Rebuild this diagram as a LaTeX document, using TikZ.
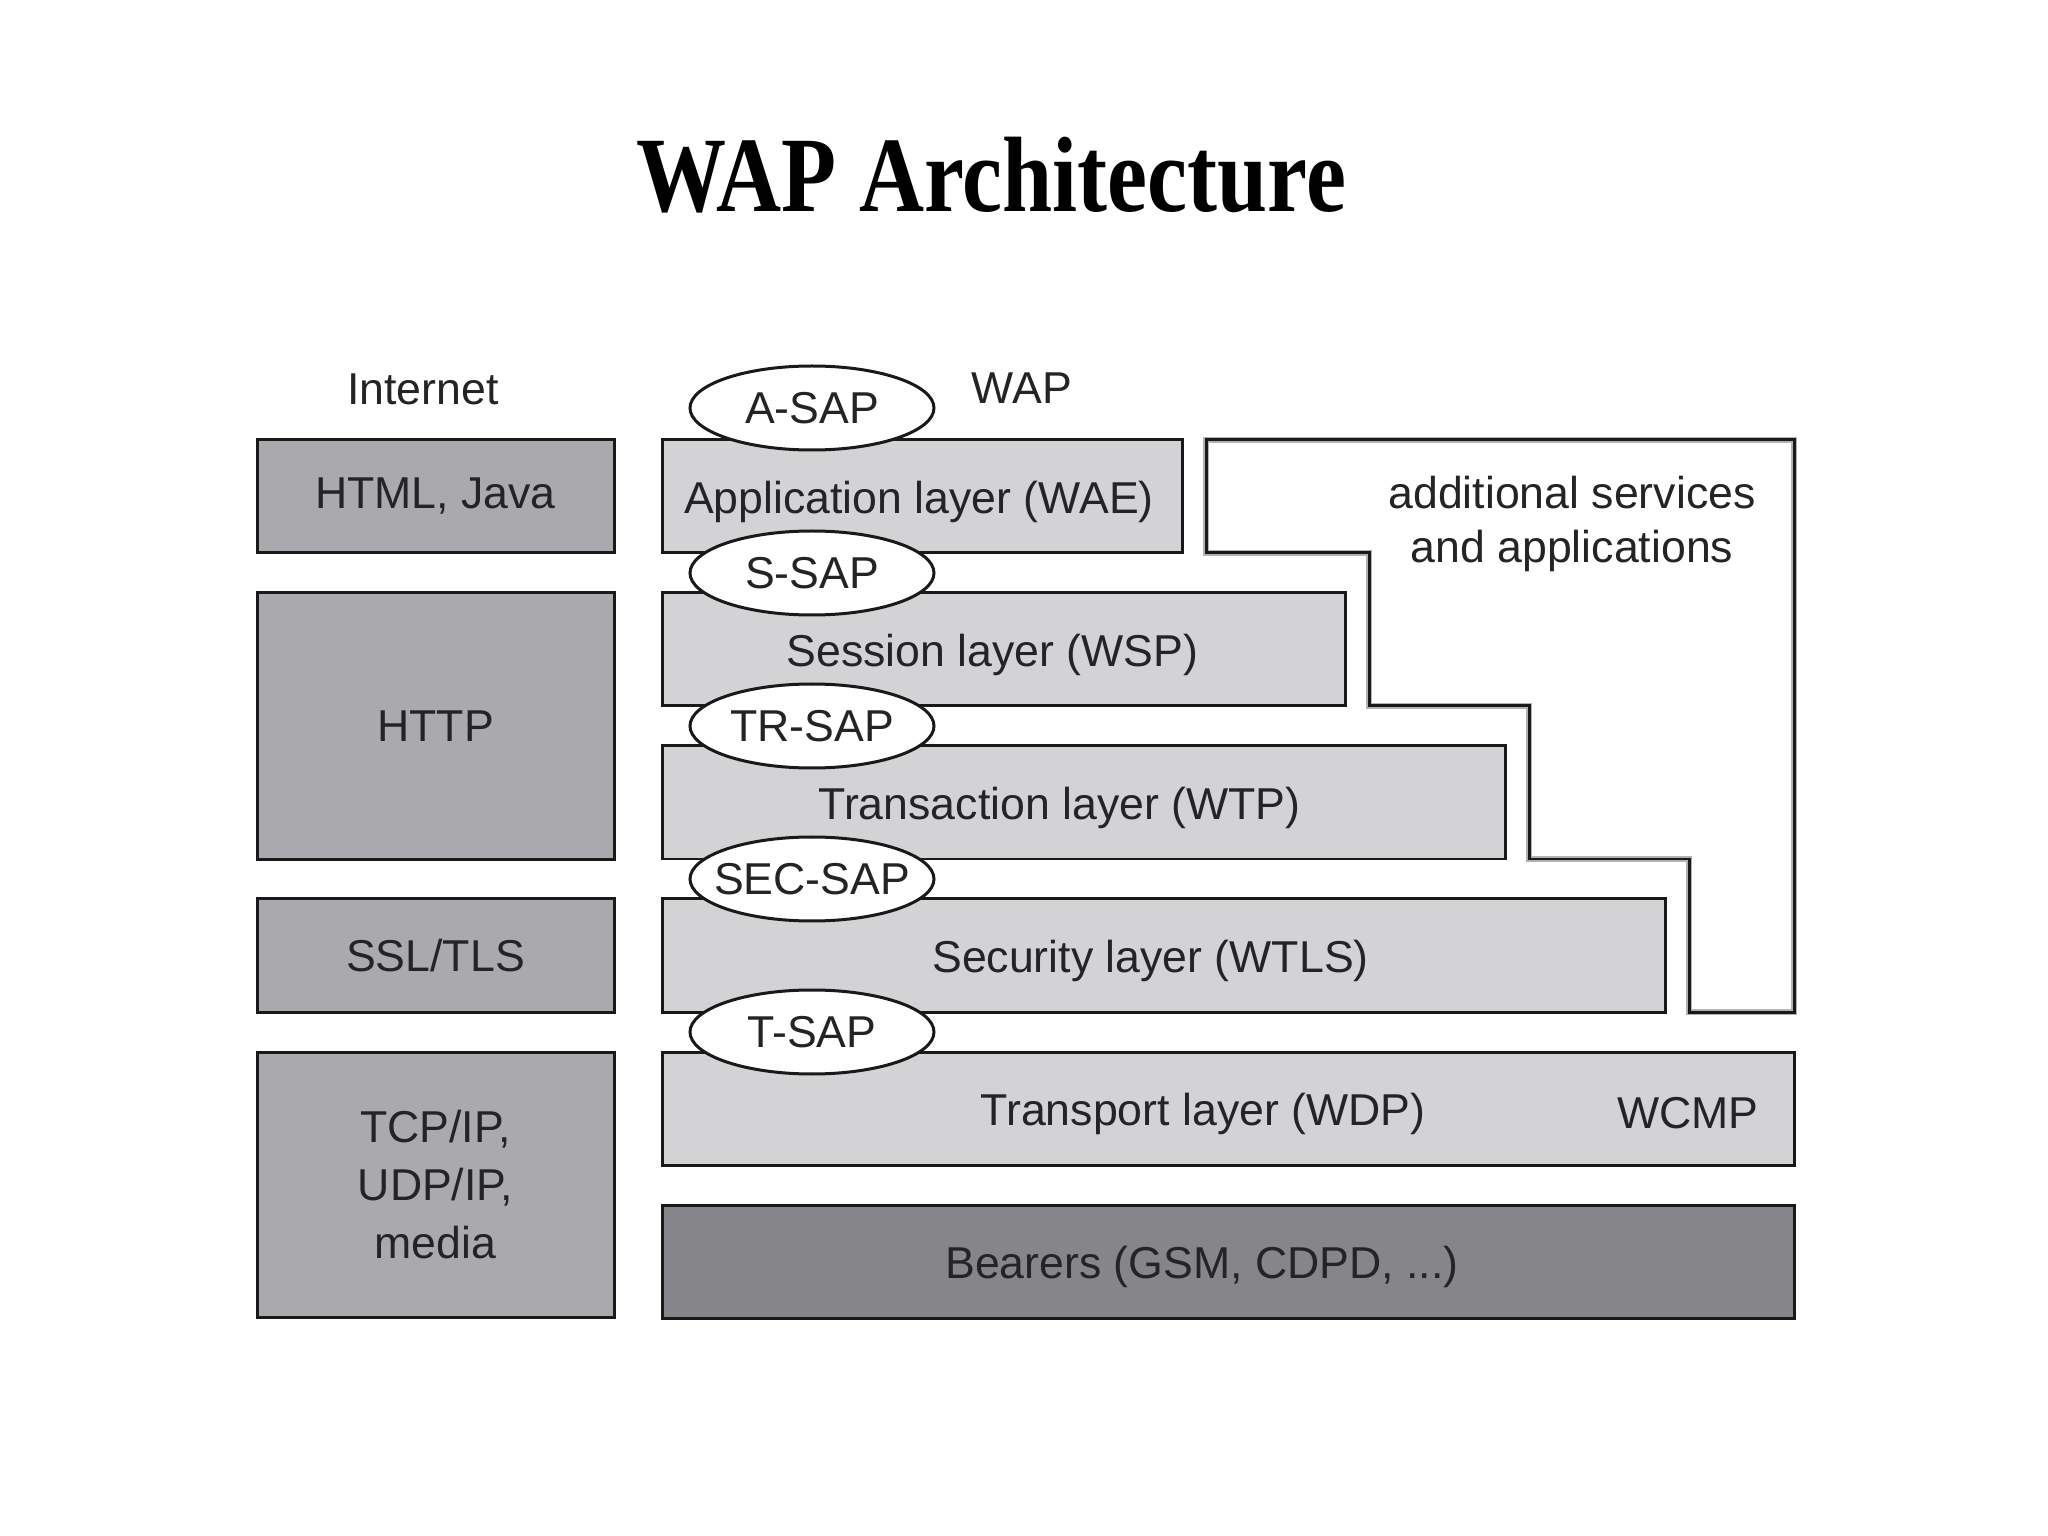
\documentclass[tikz,border=0pt]{standalone}
\usepackage{fontspec}
\setmainfont{Liberation Sans}
\newfontfamily\titlefont{Liberation Serif}
\usepackage{tikz}
\usetikzlibrary{positioning, shapes.geometric, calc}

\definecolor{netgray}{RGB}{170,170,174}
\definecolor{layergray}{RGB}{211,211,214}
\definecolor{bearergray}{RGB}{134,134,138}
\definecolor{inkgray}{RGB}{36,36,38}

\begin{document}
\begin{tikzpicture}[
  node distance=0.4cm,
  every node/.style={font=\fontsize{12.7}{16.5}\selectfont, text=inkgray},
  netbox/.style={draw=black!90, line width=0.03cm, fill=netgray, minimum width=3.57cm, outer sep=0pt, inner sep=0pt, align=center},
  layerbox/.style={draw=black!90, line width=0.03cm, fill=layergray, minimum height=1.13cm, outer sep=0pt, inner sep=0pt},
  laytext/.style={yshift=-0.05cm},
  sap/.style={ellipse, draw=black!90, line width=0.03cm, fill=white, minimum width=2.44cm, minimum height=0.84cm, inner sep=0pt},
  stairs/.style={draw=black!90, line width=0.03cm, preaction={draw=gray!60, line width=0.065cm}}
]
  \useasboundingbox[fill=white] (0,0) rectangle (20.48,-15.36);

  \node[font=\titlefont\bfseries\fontsize{30.5}{36}\selectfont, text=black, anchor=base] (title) at (9.915,-2.12) {\scalebox{0.84}[1]{WAP Architecture}};

  % Internet stack
  \node (inet) at (4.23,-3.89) {Internet};
  \node[netbox, minimum height=1.13cm, anchor=north west] (html) at (2.57,-4.40) {HTML, Java};
  \node[netbox, minimum height=2.66cm, below=of html] (http) {HTTP};
  \node[netbox, minimum height=1.13cm, below=of http] (ssl) {SSL/TLS};
  \node[netbox, minimum height=2.65cm, below=of ssl] (tcp) {TCP/IP,\\UDP/IP,\\media};

  % WAP stack
  \node (wap) at (10.22,-3.88) {WAP};
  \node[layerbox, minimum width=5.20cm, anchor=north west,
        label={[laytext, xshift=-0.03cm]center:Application layer (WAE)}] (app) at (6.62,-4.40) {};
  \node[layerbox, minimum width=6.83cm, below=of app.south west, anchor=north west,
        label={[laytext, xshift=-0.11cm]center:Session layer (WSP)}] (sess) {};
  \node[layerbox, minimum width=8.43cm, below=of sess.south west, anchor=north west,
        label={[laytext, xshift=-0.24cm]center:Transaction layer (WTP)}] (trans) {};
  \node[layerbox, minimum width=10.03cm, below=of trans.south west, anchor=north west,
        label={[laytext, xshift=-0.13cm]center:Security layer (WTLS)}] (sec) {};
  \node[layerbox, minimum width=11.32cm, below=of sec.south west, anchor=north west,
        label={[laytext, xshift=-0.25cm]center:Transport layer (WDP)},
        label={[laytext, xshift=4.60cm]center:WCMP}] (transp) {};
  \node[layerbox, fill=bearergray, minimum width=11.32cm, below=of transp.south west, anchor=north west,
        label={[laytext, xshift=-0.26cm]center:Bearers (GSM, CDPD, ...)}] (bear) {};

  % additional services
  \draw[stairs] ($(app.north east)+(0.24,0)$) -- (transp.east |- app.north)
    -- (transp.east |- sec.south) -- ($(sec.south east)+(0.24,0)$)
    |- ($(trans.south east)+(0.24,0)$) |- ($(sess.south east)+(0.24,0)$)
    |- ($(app.south east)+(0.24,0)$) -- cycle;
  \node[align=center, font=\fontsize{12.7}{15.6}\selectfont] (extra) at (15.72,-5.24) {additional services\\and applications};

  % service access points
  \node[sap, label=center:A-SAP] (asap) at ($(app.north west)+(1.50,0.32)$) {};
  \node[sap, label=center:S-SAP] (ssap) at ($(app.south west)!0.5!(sess.north west)+(1.50,0)$) {};
  \node[sap, label=center:TR-SAP] (trsap) at ($(sess.south west)!0.5!(trans.north west)+(1.50,0)$) {};
  \node[sap, label=center:SEC-SAP] (secsap) at ($(trans.south west)!0.5!(sec.north west)+(1.50,0)$) {};
  \node[sap, label=center:T-SAP] (tsap) at ($(sec.south west)!0.5!(transp.north west)+(1.50,0)$) {};
\end{tikzpicture}
\end{document}
